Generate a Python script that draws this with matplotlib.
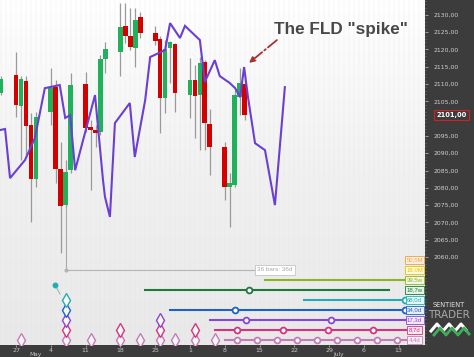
import numpy as np
import matplotlib
matplotlib.use('Agg')
import matplotlib.pyplot as plt
from matplotlib.colors import LinearSegmentedColormap
from matplotlib.ticker import MultipleLocator
from matplotlib.lines import Line2D

base = np.datetime64('2015-04-27')

# daily bars
dates = ['2015-04-24', '2015-04-27', '2015-04-28', '2015-04-29', '2015-04-30', '2015-05-01',
         '2015-05-04', '2015-05-05', '2015-05-06', '2015-05-07', '2015-05-08',
         '2015-05-11', '2015-05-12', '2015-05-13', '2015-05-14', '2015-05-15',
         '2015-05-18', '2015-05-19', '2015-05-20', '2015-05-21', '2015-05-22',
         '2015-05-25', '2015-05-26', '2015-05-27', '2015-05-28', '2015-05-29',
         '2015-06-01', '2015-06-02', '2015-06-03', '2015-06-04', '2015-06-05',
         '2015-06-08', '2015-06-09', '2015-06-10', '2015-06-11', '2015-06-12']
opens = [2107.4, 2112.6, 2103.6, 2110.9, 2098.2, 2082.5, 2101.9, 2109.1, 2085.4, 2075.0, 2085.1,
         2110.0, 2097.6, 2096.7, 2096.1, 2117.2, 2119.2, 2126.8, 2123.9, 2120.4, 2129.4,
         2124.7, 2123.0, 2106.0, 2120.4, 2121.6, 2106.8, 2111.2, 2106.8, 2116.4, 2098.4,
         2091.8, 2080.2, 2080.8, 2106.2, 2110.0]
highs = [2112.3, 2119.2, 2112.3, 2112.3, 2101.6, 2101.9, 2114.6, 2111.2, 2093.2, 2088.0, 2113.2,
         2113.5, 2099.6, 2098.2, 2118.4, 2122.1, 2133.4, 2133.4, 2132.0, 2132.0, 2130.8,
         2126.8, 2123.9, 2122.7, 2122.4, 2121.9, 2117.5, 2115.5, 2117.8, 2116.9, 2102.8,
         2093.2, 2084.3, 2108.3, 2114.6, 2112.6]
lows = [2106.8, 2100.5, 2088.0, 2088.6, 2070.1, 2080.2, 2098.2, 2081.4, 2061.2, 2074.5, 2084.3,
        2096.1, 2079.4, 2091.8, 2095.3, 2113.2, 2112.3, 2121.9, 2119.8, 2114.9, 2123.3,
        2121.3, 2095.8, 2101.6, 2110.3, 2101.9, 2100.2, 2094.4, 2090.9, 2090.9, 2083.7,
        2076.5, 2068.7, 2080.2, 2101.0, 2099.6]
closes = [2111.5, 2103.9, 2111.5, 2097.9, 2082.5, 2100.5, 2108.8, 2085.4, 2074.7, 2084.6, 2109.7,
          2097.3, 2096.7, 2095.8, 2117.2, 2120.1, 2126.5, 2123.9, 2120.7, 2128.5, 2124.7,
          2122.4, 2106.0, 2120.1, 2122.1, 2107.4, 2111.2, 2106.5, 2116.1, 2098.7, 2091.8,
          2080.2, 2081.4, 2106.8, 2110.3, 2101.0]

# FLD line (days from 27 Apr, price)
fld_x = [-3.2, -2.2, -1.2, 1.8, 3.8, 5.8, 8.8, 9.9, 10.9, 11.9, 15.9, 17.5, 17.9, 18.9, 19.9,
         22.9, 23.9, 26.0, 27.0, 30.0, 31.0, 33.0, 34.0, 37.0, 38.0, 40.0, 41.0, 43.0, 44.1,
         45.1, 45.9, 46.7, 48.1, 50.1, 52.1, 54.1]
fld_v = [2096.7, 2097.0, 2082.8, 2088.0, 2094.4, 2108.8, 2109.7, 2100.2, 2101.0, 2085.1, 2106.8,
         2082.3, 2077.4, 2071.6, 2098.7, 2104.5, 2088.9, 2105.4, 2117.8, 2119.8, 2127.6, 2123.3,
         2126.8, 2122.7, 2110.6, 2116.9, 2112.3, 2110.3, 2108.8, 2106.2, 2114.9, 2106.0, 2092.9,
         2090.9, 2075.0, 2109.1]

# cycle panel, bottom row first
cycle_labels = ['4,4d', '8,7d', '17,3d', '34,0d', '68,0d', '18,7w', '39,5w', '18,0M', '50,5M']
cycle_colors = ['#c77bb8', '#d6337f', '#8a44d8', '#1f62c4', '#22adb5', '#1d7a3a', '#8cb423',
                '#e0c400', '#f0a040']
cycle_fills = ['#fbeef8', '#fde8f1', '#f2e9fc', '#e6eefb', '#e2f7f8', '#e3f2e7', '#f1f7e0',
               '#fffbdc', '#fff1e0']
line_start = [42.1, 40.0, 39.0, 31.0, 57.9, 26.0, 50.1, None, None]
line_end = [78.5, 78.5, 78.5, 78.5, 78.5, 75.0, 78.5, None, None]
line_marks = [[44.5, 48.5, 52.5, 56.5, 60.6, 64.6, 68.6, 72.6, 76.7],
              [44.5, 53.7, 62.8, 71.8],
              [46.3, 63.4],
              [44.1, 78.3],
              [78.3],
              [46.9],
              [], [], []]
troughs = [[1, 10, 15, 21, 25, 29, 32, 36, 40],
           [10, 21, 29, 36],
           [10, 29],
           [10],
           [10]]

tick_days = ['2015-04-27', '2015-05-04', '2015-05-11', '2015-05-18', '2015-05-25', '2015-06-01',
             '2015-06-08', '2015-06-15', '2015-06-22', '2015-06-29', '2015-07-06', '2015-07-13']
month_days = ['2015-05-01', '2015-06-01', '2015-07-01']
month_names = ['May', 'June', 'July']
price_ticks = [2130, 2125, 2120, 2115, 2110, 2105, 2095, 2090, 2085, 2080, 2075, 2070, 2065, 2060]
last_price = 2101.0
swing_low = 2056.3

d = (np.array(dates, dtype='datetime64[D]') - base).astype(int)
o, h, l, c = map(np.array, (opens, highs, lows, closes))

W, H = 474, 357
fig = plt.figure(figsize=(W / 100, H / 100), dpi=100, facecolor='#3c3c3c')
pos = [0, 12 / H, 425 / W, 345 / H]
ax = fig.add_axes(pos)
xlim = (-3.22, 82.3)
ylim = (2034.57, 2134.28)
ax.set_xlim(*xlim)
ax.set_ylim(*ylim)
for s in ax.spines.values():
    s.set_visible(False)

bg = LinearSegmentedColormap.from_list('bg', ['#e9e9e9', '#f1f1f1', '#ffffff'])
ax.imshow(np.linspace(0, 1, 200)[:, None], extent=[*xlim, *ylim], origin='lower',
          aspect='auto', cmap=bg, zorder=0)
ax.vlines(np.arange(-3, 83), *ylim, color='#dedede', lw=0.35, alpha=0.45, zorder=0.5)

up = c >= o
ax.vlines(d, l, h, color='#9a9a9a', lw=0.9, zorder=2)
ax.bar(d[up], (c - o)[up], bottom=o[up], width=0.95, color='#1fb25a', zorder=3)
ax.bar(d[~up], (o - c)[~up], bottom=c[~up], width=0.95, color='#d40000', zorder=3)

ax.plot(fld_x, fld_v, color='#6a3fd4', lw=1.5, zorder=4, solid_joinstyle='miter')

# measure bracket from the May 7 low
i_low = dates.index('2015-05-07')
ax.plot([d[i_low], d[i_low]], [l[i_low], swing_low], color='#a8a8a8', lw=0.8, zorder=2)
ax.plot([d[i_low], 48.1], [swing_low, swing_low], color='#b4b4b4', lw=0.8, zorder=2)
ax.plot([d[i_low]], [swing_low], 'o', ms=2, color='#b4b4b4', zorder=2)
ax.text(52.1, swing_low, '36 bars: 36d', ha='center', va='center', fontsize=4.6,
        color='#a8a8a8', family='Liberation Sans',
        bbox=dict(boxstyle='square,pad=0.35', fc='white', ec='#c4c4c4', lw=0.6))

# annotation
ax.text(65.4, 2125.8, 'The FLD "spike"', ha='center', va='center', fontsize=12.3,
        fontweight='bold', family='Liberation Sans', color='#484848')
ax.annotate('', xy=(46.9, 2116.1), xytext=(52.5, 2122.7),
            arrowprops=dict(arrowstyle='-|>', color='#a83232', lw=1.3, ls='-.',
                            shrinkA=0, shrinkB=0, mutation_scale=8))

# x axis in the dark strip
ax.set_xticks((np.array(tick_days, dtype='datetime64[D]') - base).astype(int))
ax.set_xticklabels([t[-2:].lstrip('0') for t in tick_days])
ax.set_xticks((np.array(month_days, dtype='datetime64[D]') - base).astype(int), minor=True)
ax.set_xticklabels(month_names, minor=True)
ax.tick_params(axis='x', which='major', length=1.5, color='#9a9a9a', labelcolor='#c8c8c8',
               labelsize=4.5, pad=0.6)
ax.tick_params(axis='x', which='minor', length=0, labelcolor='#c8c8c8', labelsize=4.2, pad=5.2)

# price axis in the dark panel
ax.yaxis.tick_right()
ax.set_yticks(price_ticks)
ax.set_yticklabels([f'{v},00' for v in price_ticks])
ax.yaxis.set_minor_locator(MultipleLocator(1))
ax.tick_params(axis='y', which='major', length=2.2, color='#9a9a9a', labelcolor='#cfcfcf',
               labelsize=4.4, pad=4)
ax.tick_params(axis='y', which='minor', length=1.0, color='#7a7a7a')
ax.annotate(f'{last_price:.2f}'.replace('.', ','), xy=(1, last_price),
            xycoords=('axes fraction', 'data'), xytext=(8, 0), textcoords='offset points',
            ha='left', va='center', fontsize=4.8, color='#ffffff', fontweight='bold',
            bbox=dict(boxstyle='square,pad=0.35', fc='#3c3c3c', ec='#d42020', lw=0.8))

# cycle panel
ax2 = fig.add_axes(pos, frameon=False)
ax2.set_xlim(*xlim)
ax2.set_ylim(-0.5, 34.0)
ax2.axis('off')
for row, (lab, col, fc) in enumerate(zip(cycle_labels, cycle_colors, cycle_fills)):
    if line_start[row] is not None:
        ax2.plot([line_start[row], line_end[row]], [row, row], color=col, lw=1.5, zorder=3)
    if line_marks[row]:
        ax2.plot(line_marks[row], [row] * len(line_marks[row]), 'o', ms=4.2, mfc='white',
                 mec=col, mew=1.3, zorder=4)
    if row < len(troughs):
        ax2.plot(troughs[row], [row] * len(troughs[row]), 'd', ms=7, mfc='#f7f7f7',
                 mec=col, mew=1.0, zorder=4)
    ax2.text(80.2, row, lab, ha='center', va='center', fontsize=4.3, color=col,
             family='Liberation Sans',
             bbox=dict(boxstyle='square,pad=0.25', fc=fc, ec=col, lw=0.6), zorder=5)
ax2.plot([7.85, 8.85], [5.5, 4.6], color='#9a9a9a', lw=0.6, zorder=3)
ax2.plot([7.85], [5.5], 'o', ms=3.2, color='#22adb5', zorder=4)

# logo
fig.text(449 / W, 1 - 305 / H, 'SENTIENT', ha='center', va='center', fontsize=4.8,
         color='#e0e0e0', family='DejaVu Sans')
fig.text(449 / W, 1 - 315 / H, 'TRADER', ha='center', va='center', fontsize=7.5,
         color='#a8a8a8', family='DejaVu Sans')
zig = [(431, 331), (437, 324), (443, 331), (449, 324), (455, 331), (461, 324), (466, 330)]
zx = [p[0] / W for p in zig]
zy = [1 - p[1] / H for p in zig]
fig.add_artist(Line2D(zx, zy, color='#ffffff', lw=2.2, transform=fig.transFigure))
fig.add_artist(Line2D([x + 3 / W for x in zx], [y - 4 / H for y in zy], color='#3fae5a',
                      lw=2.0, transform=fig.transFigure))

fig.savefig('out.png', dpi=100, facecolor=fig.get_facecolor())
